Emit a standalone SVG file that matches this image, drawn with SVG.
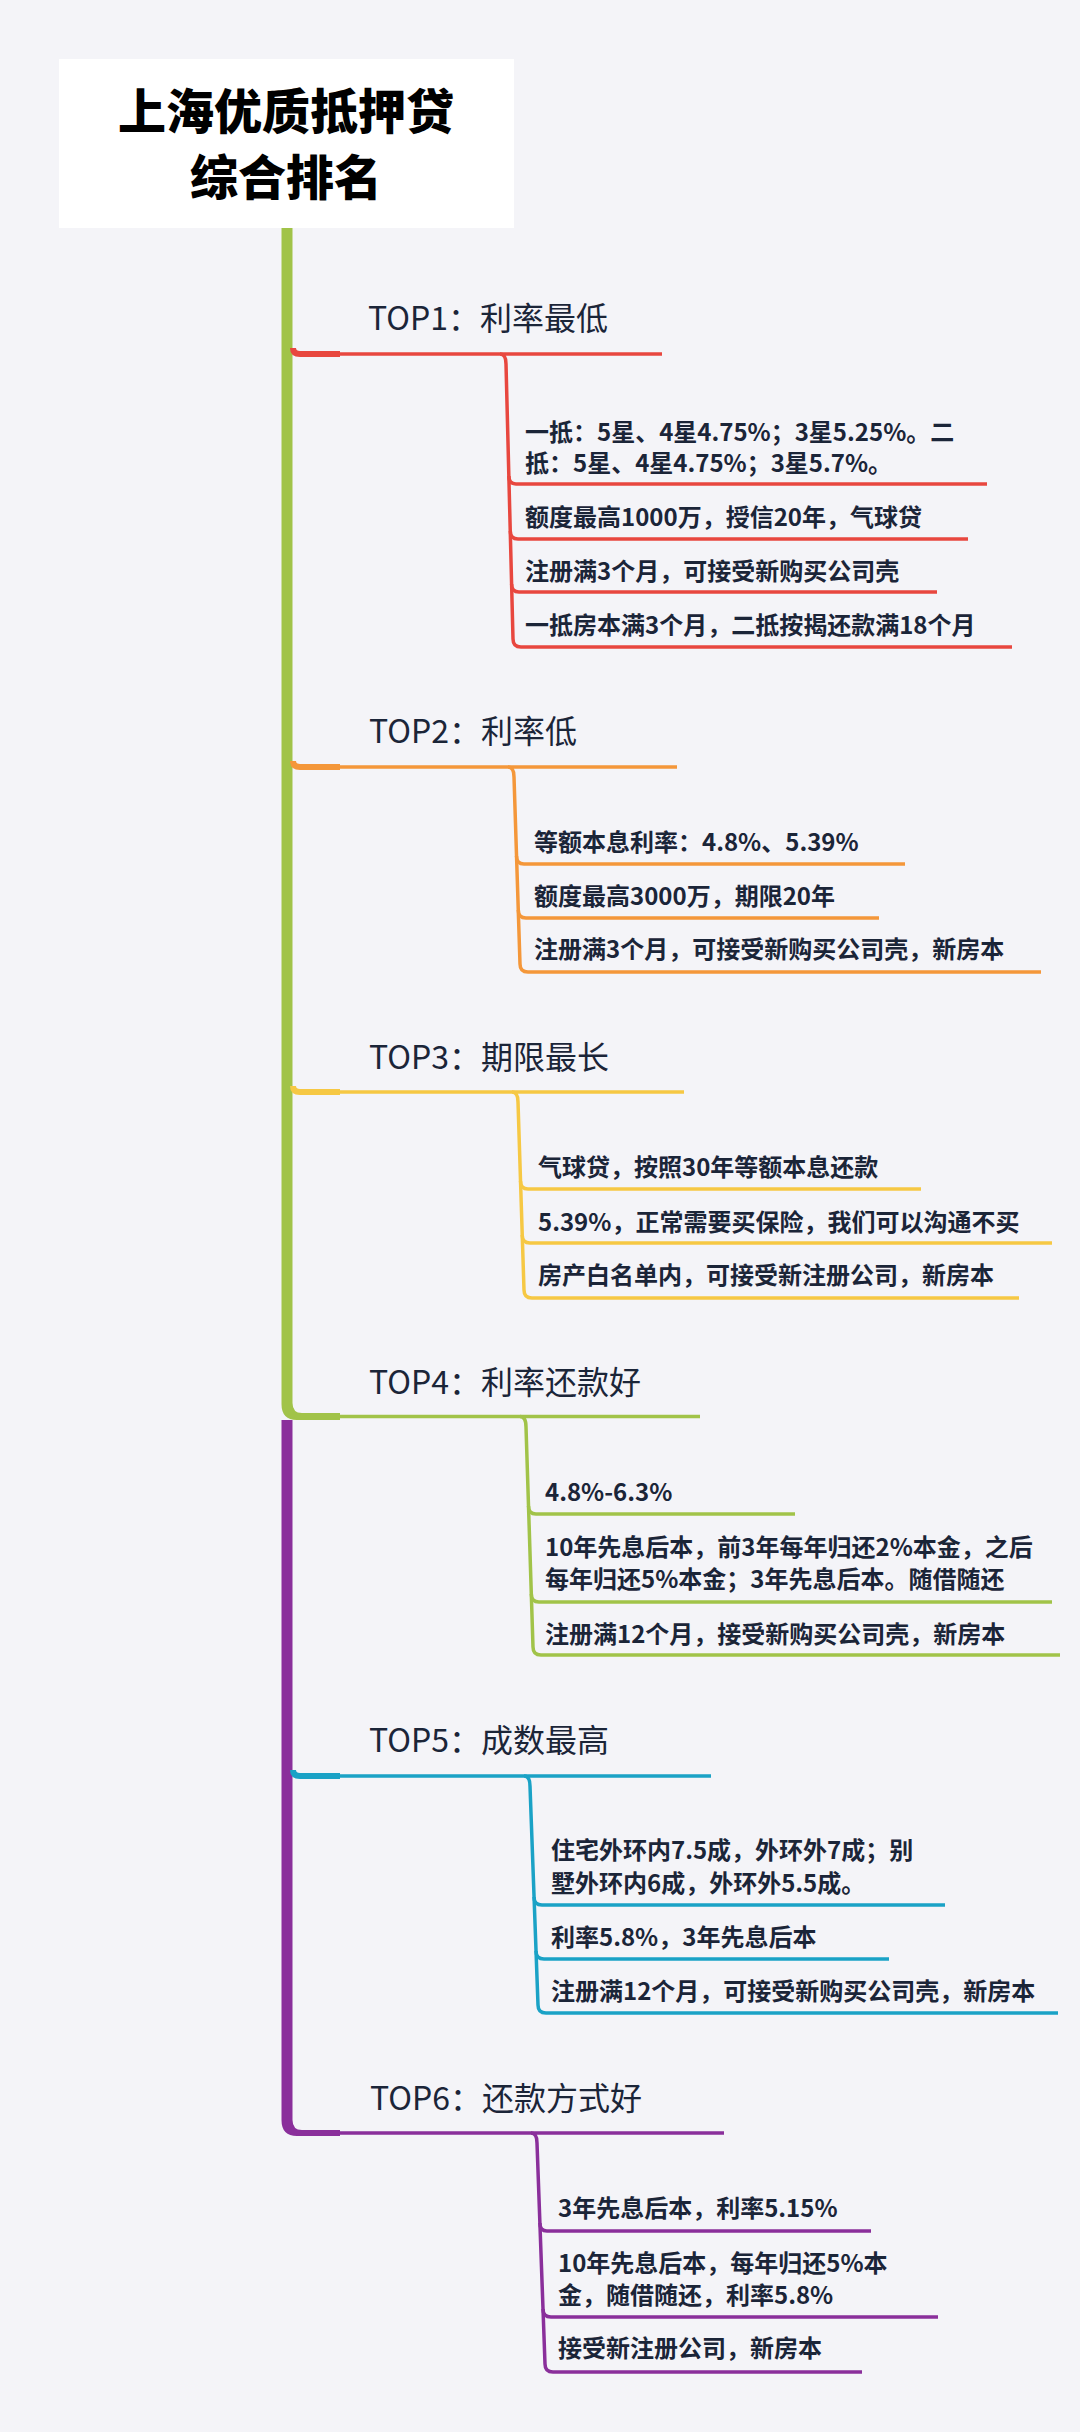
<svg xmlns="http://www.w3.org/2000/svg" width="1080" height="2432" viewBox="0 0 1080 2432">
<style>
.title{font-family:"Noto Sans CJK SC","Noto Sans",sans-serif;font-weight:900;font-size:48px;fill:#000;text-anchor:middle}
.top{font-family:"Noto Sans CJK SC","Noto Sans",sans-serif;font-weight:400;font-size:32px;fill:#1b2538}
.leaf{font-family:"Noto Sans CJK SC","Noto Sans",sans-serif;font-weight:700;font-size:24px;fill:#1b2538}
.ln{fill:none;stroke-linecap:butt;stroke-linejoin:round}
.thin{stroke-width:3.5}
.thick{stroke-width:6}
.red{stroke:#e8473f}
.org{stroke:#f4973a}
.yel{stroke:#f6c844}
.grn{stroke:#a1c349}
.tea{stroke:#1aa2c6}
.pur{stroke:#8a2f9b}
</style>
<rect x="0" y="0" width="1080" height="2432" fill="#f4f4f8"/>

<g id="connectors">
  <!-- trunk -->
  <path d="M281.5,228 V1404 Q281.5,1420 297,1420 H340 V1413 H302 Q292.5,1413 292.5,1403 V228 Z" fill="#a1c349"/>
  <path d="M281.5,1420 V2120 Q281.5,2136 297,2136 H340 V2130 H302 Q292.5,2130 292.5,2120 V1420 Z" fill="#8a2f9b"/>

  <!-- TOP1 -->
  <path class="ln thick red" d="M293,348 Q293,354 300,354 H340"/>
  <path class="ln thin red" d="M300,354 H662"/>
  <path class="ln thin red" d="M500,354 Q506,354 506,364 L513,639"/>
  <path class="ln thin red" d="M508.9,476 Q508.9,484 516,484 H987"/>
  <path class="ln thin red" d="M510.3,531 Q510.3,539 518,539 H968"/>
  <path class="ln thin red" d="M511.6,584 Q511.6,592 519,592 H937"/>
  <path class="ln thin red" d="M513,639 Q513,647 521,647 H1012"/>

  <!-- TOP2 -->
  <path class="ln thick org" d="M293,761 Q293,767 300,767 H340"/>
  <path class="ln thin org" d="M300,767 H677"/>
  <path class="ln thin org" d="M508,767 Q514,767 514,777 L520,964"/>
  <path class="ln thin org" d="M516.5,856 Q516.5,864 524,864 H905"/>
  <path class="ln thin org" d="M518.3,910 Q518.3,918 526,918 H879"/>
  <path class="ln thin org" d="M520,964 Q520,972 528,972 H1041"/>

  <!-- TOP3 -->
  <path class="ln thick yel" d="M293,1086 Q293,1092 300,1092 H340"/>
  <path class="ln thin yel" d="M300,1092 H684"/>
  <path class="ln thin yel" d="M512,1092 Q518,1092 518,1102 L524,1290"/>
  <path class="ln thin yel" d="M520.5,1181 Q520.5,1189 528,1189 H921"/>
  <path class="ln thin yel" d="M522.2,1235 Q522.2,1243 530,1243 H1052"/>
  <path class="ln thin yel" d="M524,1290 Q524,1298 532,1298 H1019"/>

  <!-- TOP4 -->
  <path class="ln thin grn" d="M330,1416.5 H700"/>
  <path class="ln thin grn" d="M520,1416.5 Q526,1416.5 526,1427 L533,1647"/>
  <path class="ln thin grn" d="M528.5,1506 Q528.5,1514 536,1514 H795"/>
  <path class="ln thin grn" d="M531.3,1594 Q531.3,1602 539,1602 H1052"/>
  <path class="ln thin grn" d="M533,1647 Q533,1655 541,1655 H1060"/>

  <!-- TOP5 -->
  <path class="ln thick tea" d="M293,1770 Q293,1776 300,1776 H340"/>
  <path class="ln thin tea" d="M300,1776 H711"/>
  <path class="ln thin tea" d="M524,1776 Q530,1776 530,1786 L538,2005"/>
  <path class="ln thin tea" d="M534,1897 Q534,1905 542,1905 H945"/>
  <path class="ln thin tea" d="M536,1951 Q536,1959 544,1959 H889"/>
  <path class="ln thin tea" d="M538,2005 Q538,2013 546,2013 H1058"/>

  <!-- TOP6 -->
  <path class="ln thin pur" d="M330,2133 H724"/>
  <path class="ln thin pur" d="M531,2133 Q537,2133 537,2143 L545,2364"/>
  <path class="ln thin pur" d="M539.9,2223 Q539.9,2231 547,2231 H871"/>
  <path class="ln thin pur" d="M543,2309 Q543,2317 551,2317 H938"/>
  <path class="ln thin pur" d="M545,2364 Q545,2372 553,2372 H862"/>
</g>

<g id="root">
  <rect x="59" y="59" width="455" height="169" fill="#ffffff"/>
  <text class="title" x="286" y="129">上海优质抵押贷</text>
  <text class="title" x="286" y="195">综合排名</text>
</g>

<g id="top1">
  <text class="top" x="368" y="330">TOP1：利率最低</text>
</g>
<g id="top1-1"><text class="leaf" x="525" y="441">一抵：5星、4星4.75%；3星5.25%。二</text><text class="leaf" x="525" y="472">抵：5星、4星4.75%；3星5.7%。</text></g>
<g id="top1-2"><text class="leaf" x="525" y="526">额度最高1000万，授信20年，气球贷</text></g>
<g id="top1-3"><text class="leaf" x="525" y="580">注册满3个月，可接受新购买公司壳</text></g>
<g id="top1-4"><text class="leaf" x="525" y="634">一抵房本满3个月，二抵按揭还款满18个月</text></g>

<g id="top2">
  <text class="top" x="369" y="743">TOP2：利率低</text>
</g>
<g id="top2-1"><text class="leaf" x="534" y="851">等额本息利率：4.8%、5.39%</text></g>
<g id="top2-2"><text class="leaf" x="534" y="905">额度最高3000万，期限20年</text></g>
<g id="top2-3"><text class="leaf" x="534" y="958">注册满3个月，可接受新购买公司壳，新房本</text></g>

<g id="top3">
  <text class="top" x="369" y="1069">TOP3：期限最长</text>
</g>
<g id="top3-1"><text class="leaf" x="538" y="1176">气球贷，按照30年等额本息还款</text></g>
<g id="top3-2"><text class="leaf" x="538" y="1231">5.39%，正常需要买保险，我们可以沟通不买</text></g>
<g id="top3-3"><text class="leaf" x="538" y="1284">房产白名单内，可接受新注册公司，新房本</text></g>

<g id="top4">
  <text class="top" x="369" y="1394">TOP4：利率还款好</text>
</g>
<g id="top4-1"><text class="leaf" x="545" y="1501">4.8%-6.3%</text></g>
<g id="top4-2"><text class="leaf" x="545" y="1556">10年先息后本，前3年每年归还2%本金，之后</text><text class="leaf" x="545" y="1588">每年归还5%本金；3年先息后本。随借随还</text></g>
<g id="top4-3"><text class="leaf" x="545" y="1643">注册满12个月，接受新购买公司壳，新房本</text></g>

<g id="top5">
  <text class="top" x="369" y="1752">TOP5：成数最高</text>
</g>
<g id="top5-1"><text class="leaf" x="551" y="1859">住宅外环内7.5成，外环外7成；别</text><text class="leaf" x="551" y="1892">墅外环内6成，外环外5.5成。</text></g>
<g id="top5-2"><text class="leaf" x="551" y="1946">利率5.8%，3年先息后本</text></g>
<g id="top5-3"><text class="leaf" x="551" y="2000">注册满12个月，可接受新购买公司壳，新房本</text></g>

<g id="top6">
  <text class="top" x="370" y="2110">TOP6：还款方式好</text>
</g>
<g id="top6-1"><text class="leaf" x="558" y="2217">3年先息后本，利率5.15%</text></g>
<g id="top6-2"><text class="leaf" x="558" y="2272">10年先息后本，每年归还5%本</text><text class="leaf" x="558" y="2304">金，随借随还，利率5.8%</text></g>
<g id="top6-3"><text class="leaf" x="558" y="2357">接受新注册公司，新房本</text></g>
</svg>
